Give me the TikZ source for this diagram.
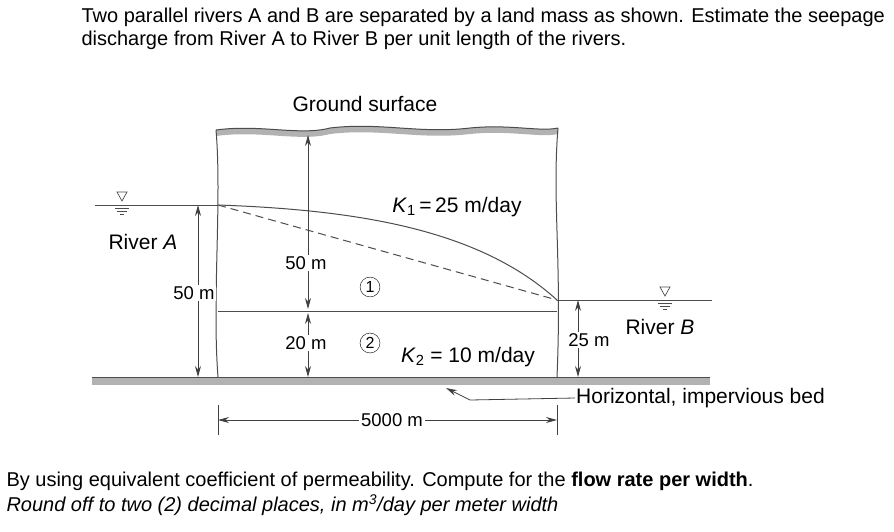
\documentclass[tikz,border=0pt]{standalone}
\usepackage{fontspec}
\setmainfont{Liberation Sans}
\usetikzlibrary{arrows.meta}
\begin{document}
\begin{tikzpicture}[x=1pt,y=-1pt,
  lab/.style={font=\fontsize{21}{24}\selectfont},
  sm/.style={font=\fontsize{18.5}{20}\selectfont,fill=white,inner sep=1pt},
  dim/.style={draw=black!75,line width=0.8pt,{Stealth[length=11pt,width=6pt]}-{Stealth[length=11pt,width=6pt]}},
  one/.style={draw=black!75,line width=0.8pt,-{Stealth[length=11pt,width=6pt]}},
  ln/.style={draw=black!70,line width=1pt},
  circ/.style={circle,draw,inner sep=2pt,font=\fontsize{16}{16}\selectfont}]
\useasboundingbox (0,0) rectangle (894,531);
\node[anchor=west,font=\fontsize{20}{23}\selectfont,align=left] (title) at (78,29) {Two parallel rivers A and B are separated by a land mass as shown. Estimate the seepage\\discharge from River A to River B per unit length of the rivers.};
% ground surface
\fill[black!30] (216,130) .. controls (260,124) and (300,136) .. (330,128) .. controls (380,122) and (420,134) .. (470,128) .. controls (510,124) and (540,132) .. (558,128) -- (558,134) .. controls (540,138) and (510,130) .. (470,134) .. controls (420,140) and (380,128) .. (330,134) .. controls (300,142) and (260,130) .. (216,136) -- cycle;
\draw[ln] (216,130) .. controls (260,124) and (300,136) .. (330,128) .. controls (380,122) and (420,134) .. (470,128) .. controls (510,124) and (540,132) .. (558,128);
\draw[ln] (216,130) .. controls (222,200) and (212,300) .. (218,377);
\draw[ln] (558,128) .. controls (552,200) and (562,260) .. (557,377);
\node[lab] (gs) at (365,104) {Ground surface};
% bed
\fill[black!30] (92,377) rectangle (710,385);
\draw[ln] (92,377) -- (710,377);
% water levels
\coordinate (wa) at (95,205); \coordinate (a0) at (218,205);
\coordinate (b0) at (557,300); \coordinate (wb) at (712,300);
\draw[ln] (wa) -- (a0); \draw[ln] (b0) -- (wb);
\draw[ln] (218,311) -- (557,311);
\draw[ln] (a0) .. controls (360,210) and (480,230) .. (b0);
\draw[ln,dashed,dash pattern=on 8pt off 5pt] (a0) -- (b0);
% water symbols
\foreach \x/\y in {122/205,665/300}{
 \draw[black!70,line width=0.7pt] (\x-5,\y-13) -- (\x+5,\y-13) -- (\x,\y-4) -- cycle;
 \draw[black!70,line width=0.7pt] (\x-7,\y+3)--(\x+7,\y+3) (\x-5,\y+6)--(\x+5,\y+6) (\x-2,\y+9)--(\x+2,\y+9);}
\node[lab] (ra) at (143,242) {River \textit{A}};
\node[lab] (rb) at (660,327) {River \textit{B}};
% dims
\coordinate (d1) at (198,205); \coordinate (d2) at (198,377);
\draw[dim] (d1) -- (d2);
\node[sm] (l50a) at (194,293) {50 m};
\coordinate (m0) at (308,135); \coordinate (m1) at (308,309); \coordinate (m2) at (308,313); \coordinate (m3) at (308,377);
\draw[dim] (m0) -- (m1);
\draw[dim] (m2) -- (m3);
\node[sm] (l50b) at (306,263) {50 m};
\node[sm] (l20) at (306,343) {20 m};
\coordinate (r0) at (578,300); \coordinate (r1) at (578,377);
\draw[dim] (r0) -- (r1);
\node[sm] (l25) at (589,340) {25 m};
\node[circ] (c1) at (370,287) {1};
\node[circ] (c2) at (370,343) {2};
\node[lab] (k1) at (457,207) {\textit{K}\textsubscript{1}\,=\,25 m/day};
\node[lab] (k2) at (468,357) {\textit{K}\textsubscript{2} = 10 m/day};
% 5000
\draw[black!75,line width=0.8pt] (218,405) -- (218,435) (557,405) -- (557,435);
\coordinate (h0) at (218,420); \coordinate (h1) at (557,420);
\draw[dim] (h0) -- (h1);
\node[sm,inner sep=2pt] (l5000) at (392,420) {5000 m};
% leader
\node[lab,anchor=west,inner sep=1pt] (hb) at (575,398) {Horizontal, impervious bed};
\coordinate (lk) at (470,400);
\draw[one] (hb.west) -- (lk) -- (446,388);
\node[anchor=west,font=\fontsize{20}{25}\selectfont,align=left] (q) at (3,494) {By using equivalent coefficient of permeability. Compute for the \textbf{flow rate per width}.\\\textit{Round off to two (2) decimal places, in m\textsuperscript{3}/day per meter width}};
\end{tikzpicture}
\end{document}
